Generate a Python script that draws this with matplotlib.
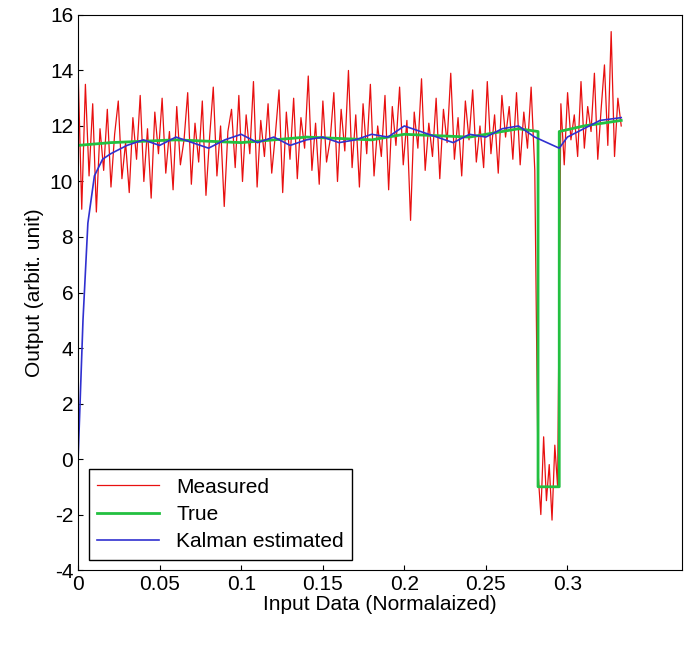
import numpy as np
import matplotlib.pyplot as plt

plt.rcParams['font.family'] = ['Liberation Sans', 'DejaVu Sans']
plt.rcParams['axes.unicode_minus'] = False

# measured signal (noisy trace), in three segments
meas_a = [
    14.0, 9.0, 13.5, 10.2, 12.8, 8.9, 11.9, 10.4, 12.6, 9.8, 11.7, 12.9, 10.1, 11.4, 9.6, 12.3,
    10.8, 13.1, 10.0, 11.9, 9.4, 12.5, 11.0, 13.0, 10.3, 11.8, 9.7, 12.7, 10.6, 11.5,
    13.2, 9.9, 12.1, 10.7, 12.9, 9.5, 11.6, 13.4, 10.2, 12.0, 9.1, 11.8, 12.6, 10.5,
    13.1, 10.0, 12.4, 11.0, 13.6, 9.8, 12.2, 10.9, 12.8, 10.3, 11.7, 13.3, 9.6, 12.5,
    10.8, 13.0, 10.1, 12.3, 11.2, 13.8, 10.4, 12.1, 9.9, 12.9, 10.7, 11.5, 13.2, 10.0,
    12.6, 11.1, 14.0, 10.5, 12.4, 9.8, 12.8, 11.0, 13.5, 10.2, 12.0, 10.9, 13.1, 9.7,
    12.7, 11.3, 13.4, 10.6, 12.2, 8.6, 12.5, 11.2, 13.7, 10.4, 12.1, 10.9, 13.0, 10.1,
    12.6, 11.4, 13.9, 10.8, 12.3, 10.2, 12.9, 11.5, 13.3, 10.7, 12.0, 10.5, 13.6, 11.0,
    12.4, 10.3, 13.1, 11.6, 12.7, 10.8, 13.2, 10.6, 12.5, 11.2, 13.4, 10.4,
]
meas_b = [-0.5, -2.0, 0.8, -1.5, -0.2, -2.2, 0.5, -1.0]
meas_c = [12.8, 10.6, 13.2, 11.5, 12.4, 10.9, 13.6, 11.2, 12.7, 11.8, 13.9, 10.8, 12.6, 14.2,
          11.3, 15.4, 10.9, 13.0, 12.0]
measured = meas_a + meas_b + meas_c
meas_x = np.concatenate([np.linspace(0, 0.280, len(meas_a)),
                         np.linspace(0.282, 0.294, len(meas_b)),
                         np.linspace(0.296, 0.333, len(meas_c))])

# true signal (piecewise)
true_x = [0.0, 0.02, 0.06, 0.10, 0.14, 0.18, 0.20, 0.24, 0.27, 0.282, 0.282, 0.295, 0.295, 0.31, 0.333]
true_y = [11.3, 11.4, 11.5, 11.4, 11.6, 11.5, 11.7, 11.6, 11.9, 11.8, -1.0, -1.0, 11.8, 12.0, 12.2]

# Kalman estimate
kal_x = [0.0, 0.003, 0.006, 0.010, 0.015, 0.02, 0.03, 0.04, 0.05, 0.06, 0.07, 0.08, 0.09,
         0.10, 0.11, 0.12, 0.13, 0.14, 0.15, 0.16, 0.17, 0.18, 0.19, 0.20, 0.21, 0.22,
         0.23, 0.24, 0.25, 0.26, 0.27, 0.28, 0.295, 0.30, 0.31, 0.32, 0.333]
kal_y = [0.0, 5.0, 8.5, 10.2, 10.8, 11.0, 11.3, 11.5, 11.3, 11.6, 11.4, 11.2, 11.5,
         11.7, 11.4, 11.6, 11.3, 11.5, 11.6, 11.4, 11.5, 11.7, 11.6, 12.0, 11.8, 11.6,
         11.4, 11.7, 11.6, 11.9, 12.0, 11.6, 11.2, 11.6, 11.9, 12.2, 12.3]

fig, ax = plt.subplots(figsize=(6.85, 6.5), dpi=100)
fig.subplots_adjust(left=0.114, right=0.995, bottom=0.123, top=0.977)

ax.plot(meas_x, measured, color='#e81010', lw=0.9, label='Measured')
ax.plot(true_x, true_y, color='#22c040', lw=2, label='True')
ax.plot(kal_x, kal_y, color='#3030d0', lw=1.2, label='Kalman estimated')

ax.set_xlim(0, 0.37)
ax.set_ylim(-4, 16)
ax.set_xticks([0, 0.05, 0.1, 0.15, 0.2, 0.25, 0.3])
ax.set_xticklabels(['0', '0.05', '0.1', '0.15', '0.2', '0.25', '0.3'])
ax.set_yticks(range(-4, 17, 2))
ax.tick_params(labelsize=15, direction='in')
ax.set_xlabel('Input Data (Normalaized)', fontsize=15, labelpad=1)
ax.set_ylabel('Output (arbit. unit)', fontsize=15)
ax.legend(loc='lower left', fontsize=15, fancybox=False, edgecolor='black',
          framealpha=1, handlelength=3, labelspacing=0.4)

plt.savefig('out.png', dpi=100)
